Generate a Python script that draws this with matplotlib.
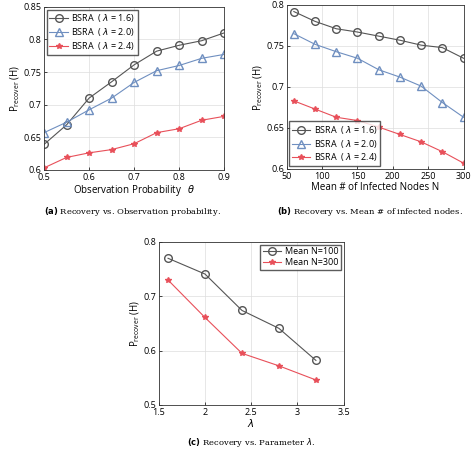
import matplotlib
matplotlib.use("Agg")
import matplotlib.pyplot as plt

theta = [0.5, 0.55, 0.6, 0.65, 0.7, 0.75, 0.8, 0.85, 0.9]
a_16 = [0.639, 0.669, 0.710, 0.735, 0.761, 0.782, 0.791, 0.798, 0.810]
a_20 = [0.657, 0.673, 0.692, 0.710, 0.734, 0.752, 0.760, 0.771, 0.777]
a_24 = [0.603, 0.619, 0.626, 0.631, 0.640, 0.657, 0.663, 0.676, 0.682]

nodes = [60, 90, 120, 150, 180, 210, 240, 270, 300]
b_16 = [0.792, 0.780, 0.771, 0.767, 0.762, 0.757, 0.751, 0.748, 0.735]
b_20 = [0.765, 0.752, 0.743, 0.735, 0.721, 0.712, 0.701, 0.681, 0.663]
b_24 = [0.683, 0.673, 0.663, 0.659, 0.651, 0.642, 0.633, 0.621, 0.607]

lam = [1.6, 2.0, 2.4, 2.8, 3.2]
c_100 = [0.770, 0.741, 0.674, 0.641, 0.582]
c_300 = [0.730, 0.661, 0.595, 0.572, 0.546]

labels = ['BSRA  ( $\\lambda$ = 1.6)', 'BSRA  ( $\\lambda$ = 2.0)', 'BSRA  ( $\\lambda$ = 2.4)']
gray, blue, red = '#555555', '#6f8fc0', '#e8505a'

plt.rcParams['font.family'] = ['Open Sans', 'DejaVu Sans']
plt.rcParams['font.size'] = 6.5
fig = plt.figure(figsize=(4.74, 4.54), dpi=100)

def style(ax):
    ax.grid(True, color='#dddddd', linewidth=0.5)
    for s in ax.spines.values():
        s.set_color('#333333'); s.set_linewidth(0.6)
    ax.tick_params(labelsize=6.5, length=2, width=0.5, direction='in', pad=2)
    ax.set_ylabel('P$_{\\mathregular{recover}}$ (H)', fontsize=7, labelpad=1)
    ax.xaxis.labelpad = 1

def three(ax, x, ys):
    ax.plot(x, ys[0], '-o', color=gray, mfc='none', ms=5.5, lw=0.8, label=labels[0])
    ax.plot(x, ys[1], '-^', color=blue, mfc='none', ms=5.5, lw=0.8, label=labels[1])
    ax.plot(x, ys[2], '-*', color=red, ms=4, lw=0.8, label=labels[2])

leg = dict(fontsize=6.5, frameon=True, edgecolor='#333', fancybox=False,
           handlelength=2, borderpad=0.3, labelspacing=0.2, handletextpad=0.4, borderaxespad=0.3)

ax1 = fig.add_axes([0.093, 0.626, 0.38, 0.359])
three(ax1, theta, [a_16, a_20, a_24])
ax1.set_xlim(0.5, 0.9); ax1.set_ylim(0.6, 0.85)
ax1.set_xticks([0.5, 0.6, 0.7, 0.8, 0.9]); ax1.set_yticks([0.6, 0.65, 0.7, 0.75, 0.8, 0.85])
ax1.set_yticklabels(['0.6', '0.65', '0.7', '0.75', '0.8', '0.85'])
ax1.set_xlabel('Observation Probability   $\\theta$', fontsize=7)
style(ax1)
ax1.legend(loc='upper left', **leg)

ax2 = fig.add_axes([0.605, 0.628, 0.373, 0.361])
three(ax2, nodes, [b_16, b_20, b_24])
ax2.set_xlim(50, 300); ax2.set_ylim(0.6, 0.8)
ax2.set_xticks([50, 100, 150, 200, 250, 300]); ax2.set_yticks([0.6, 0.65, 0.7, 0.75, 0.8])
ax2.set_yticklabels(['0.6', '0.65', '0.7', '0.75', '0.8'])
ax2.set_xlabel('Mean # of Infected Nodes N', fontsize=7)
style(ax2)
ax2.legend(loc='lower left', **leg)

ax3 = fig.add_axes([0.335, 0.108, 0.39, 0.359])
ax3.plot(lam, c_100, '-o', color=gray, mfc='none', ms=5.5, lw=0.8, label='Mean N=100')
ax3.plot(lam, c_300, '-*', color=red, ms=4, lw=0.8, label='Mean N=300')
ax3.set_xlim(1.5, 3.5); ax3.set_ylim(0.5, 0.8)
ax3.set_xticks([1.5, 2, 2.5, 3, 3.5]); ax3.set_yticks([0.5, 0.6, 0.7, 0.8])
ax3.set_xticklabels(['1.5', '2', '2.5', '3', '3.5'])
ax3.set_xlabel('$\\lambda$', fontsize=7.5)
style(ax3)
ax3.legend(loc='upper right', **leg)

cap = dict(fontsize=6, family='DejaVu Serif', ha='center')
fig.text(0.28, 1 - 214/454, r'$\mathbf{(a)}$ Recovery vs. Observation probability.', **cap)
fig.text(0.78, 1 - 214/454, r'$\mathbf{(b)}$ Recovery vs. Mean # of infected nodes.', **cap)
fig.text(0.53, 1 - 445/454, r'$\mathbf{(c)}$ Recovery vs. Parameter $\lambda$.', **cap)

fig.savefig('out.png', dpi=100)
